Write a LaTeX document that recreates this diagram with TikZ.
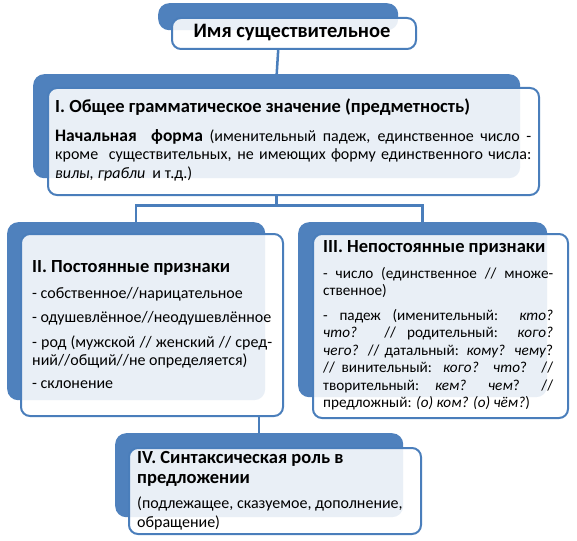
\documentclass[tikz,border=0pt]{standalone}
\usepackage{fontspec}
\setmainfont{Carlito}
\definecolor{backblue}{RGB}{79,129,189}
\definecolor{lineblue}{RGB}{74,126,187}
\begin{document}
\begin{tikzpicture}[x=1pt, y=-1pt,
back/.style={fill=backblue, rounded corners=11pt, inner sep=0, anchor=north west},
card/.style={draw=lineblue, line width=2pt, fill=white, fill opacity=.88, rounded corners=9pt, inner sep=0, anchor=north west},
link/.style={lineblue, line width=2.5pt},
title/.style={anchor=base west, inner sep=0, font=\fontsize{18.5}{20}\selectfont\bfseries},
body/.style={anchor=base west, inner sep=0, align=justify},
]
\useasboundingbox (0,0) rectangle (577,540);

%%%%%%%%%%%%%%%%%%%%%%%% BACK SHAPES %%%%%%%%%%%%%%%%%%%%%%%%
\node[back, minimum width=240pt, minimum height=27pt] (nounB) at (158,3) {};
\node[back, minimum width=487pt, minimum height=104pt] (meanB) at (33,74) {};
\node[back, minimum width=258pt, minimum height=178pt] (constB) at (7,222) {};
\node[back, minimum width=249pt, minimum height=175pt] (varB) at (298,222) {};
\node[back, minimum width=288pt, minimum height=84pt] (syntB) at (115,433) {};

%%%%%%%%%%%%%%%%%%%%%%%% CARDS %%%%%%%%%%%%%%%%%%%%%%%%
\node[card, minimum width=244pt, minimum height=31pt] (noun) at (171,17) {};
\node[card, minimum width=491pt, minimum height=107pt] (mean) at (47,87) {};
\node[card, minimum width=262pt, minimum height=182pt] (const) at (20,233) {};
\node[card, minimum width=255pt, minimum height=184pt] (var) at (312,233) {};
\node[card, minimum width=292pt, minimum height=86pt] (synt) at (128,447) {};

%%%%%%%%%%%%%%%%%%%%%%%% CONNECTORS %%%%%%%%%%%%%%%%%%%%%%%%
\coordinate (fork) at ([yshift=-27pt]meanB.south);
\draw[link] (noun.south -| nounB.south) -- (meanB.north);
\draw[link] (mean.south -| meanB.south) -- (fork);
\draw[link] (constB.north) -- (constB.north |- fork) -- (varB.north |- fork) -- (varB.north);
\draw[link] (syntB.north) -- (syntB.north |- const.south);

%%%%%%%%%%%%%%%%%%%%%%%% TEXT %%%%%%%%%%%%%%%%%%%%%%%%
\node[anchor=base, inner sep=0, font=\fontsize{20.5}{22}\selectfont\bfseries] (nounT) at (292,38) {Имя существительное};

\node[title] (meanT) at (55,113) {I. Общее грамматическое значение (предметность)};
\node[body, text width=476pt, font=\fontsize{16}{18}\selectfont] (meanX) at (55,142) {{\bfseries\fontsize{17.5}{18}\selectfont Начальная\ \ форма} (именительный падеж, единственное число -\linebreak кроме\ \ существительных, не имеющих форму единственного числа:\linebreak \textit{вилы, грабли}\ \ и~т.д.)};

\node[title] (constT) at (32,272) {II. Постоянные признаки};
\node[body, text width=240pt, font=\fontsize{16}{18}\selectfont] (constX) at (32,298) {- собственное//нарицательное\\[6pt]
- одушевлённое//неодушевлённое\\[7pt]
- род (мужской // женский // сред-\linebreak ний//общий//не определяется)\\[5pt]
- склонение};

\node[title] (varT) at (323,252) {III. Непостоянные признаки};
\node[body, text width=230pt, font=\fontsize{15.2}{17.4}\selectfont] (varX) at (323,278) {- число (единственное // множе-\linebreak ственное)\\[7.6pt]
- падеж (именительный: \textit{кто?}\linebreak \textit{что?} // родительный: \textit{кого?}\linebreak \textit{чего?} // датальный: \textit{кому? чему}?\linebreak // винительный: \textit{кого? что}? //\linebreak творительный: \textit{кем? чем}? //\linebreak предложный: \textit{(о) ком? (о) чём?})};

\node[title, text width=275pt, align=flush left] (syntT) at (137,463) {IV. Синтаксическая роль в\\предложении};
\node[body, text width=275pt, align=flush left, font=\fontsize{16}{19}\selectfont] (syntX) at (137,508) {(подлежащее, сказуемое, дополнение,\\обращение)};
\end{tikzpicture}
\end{document}
